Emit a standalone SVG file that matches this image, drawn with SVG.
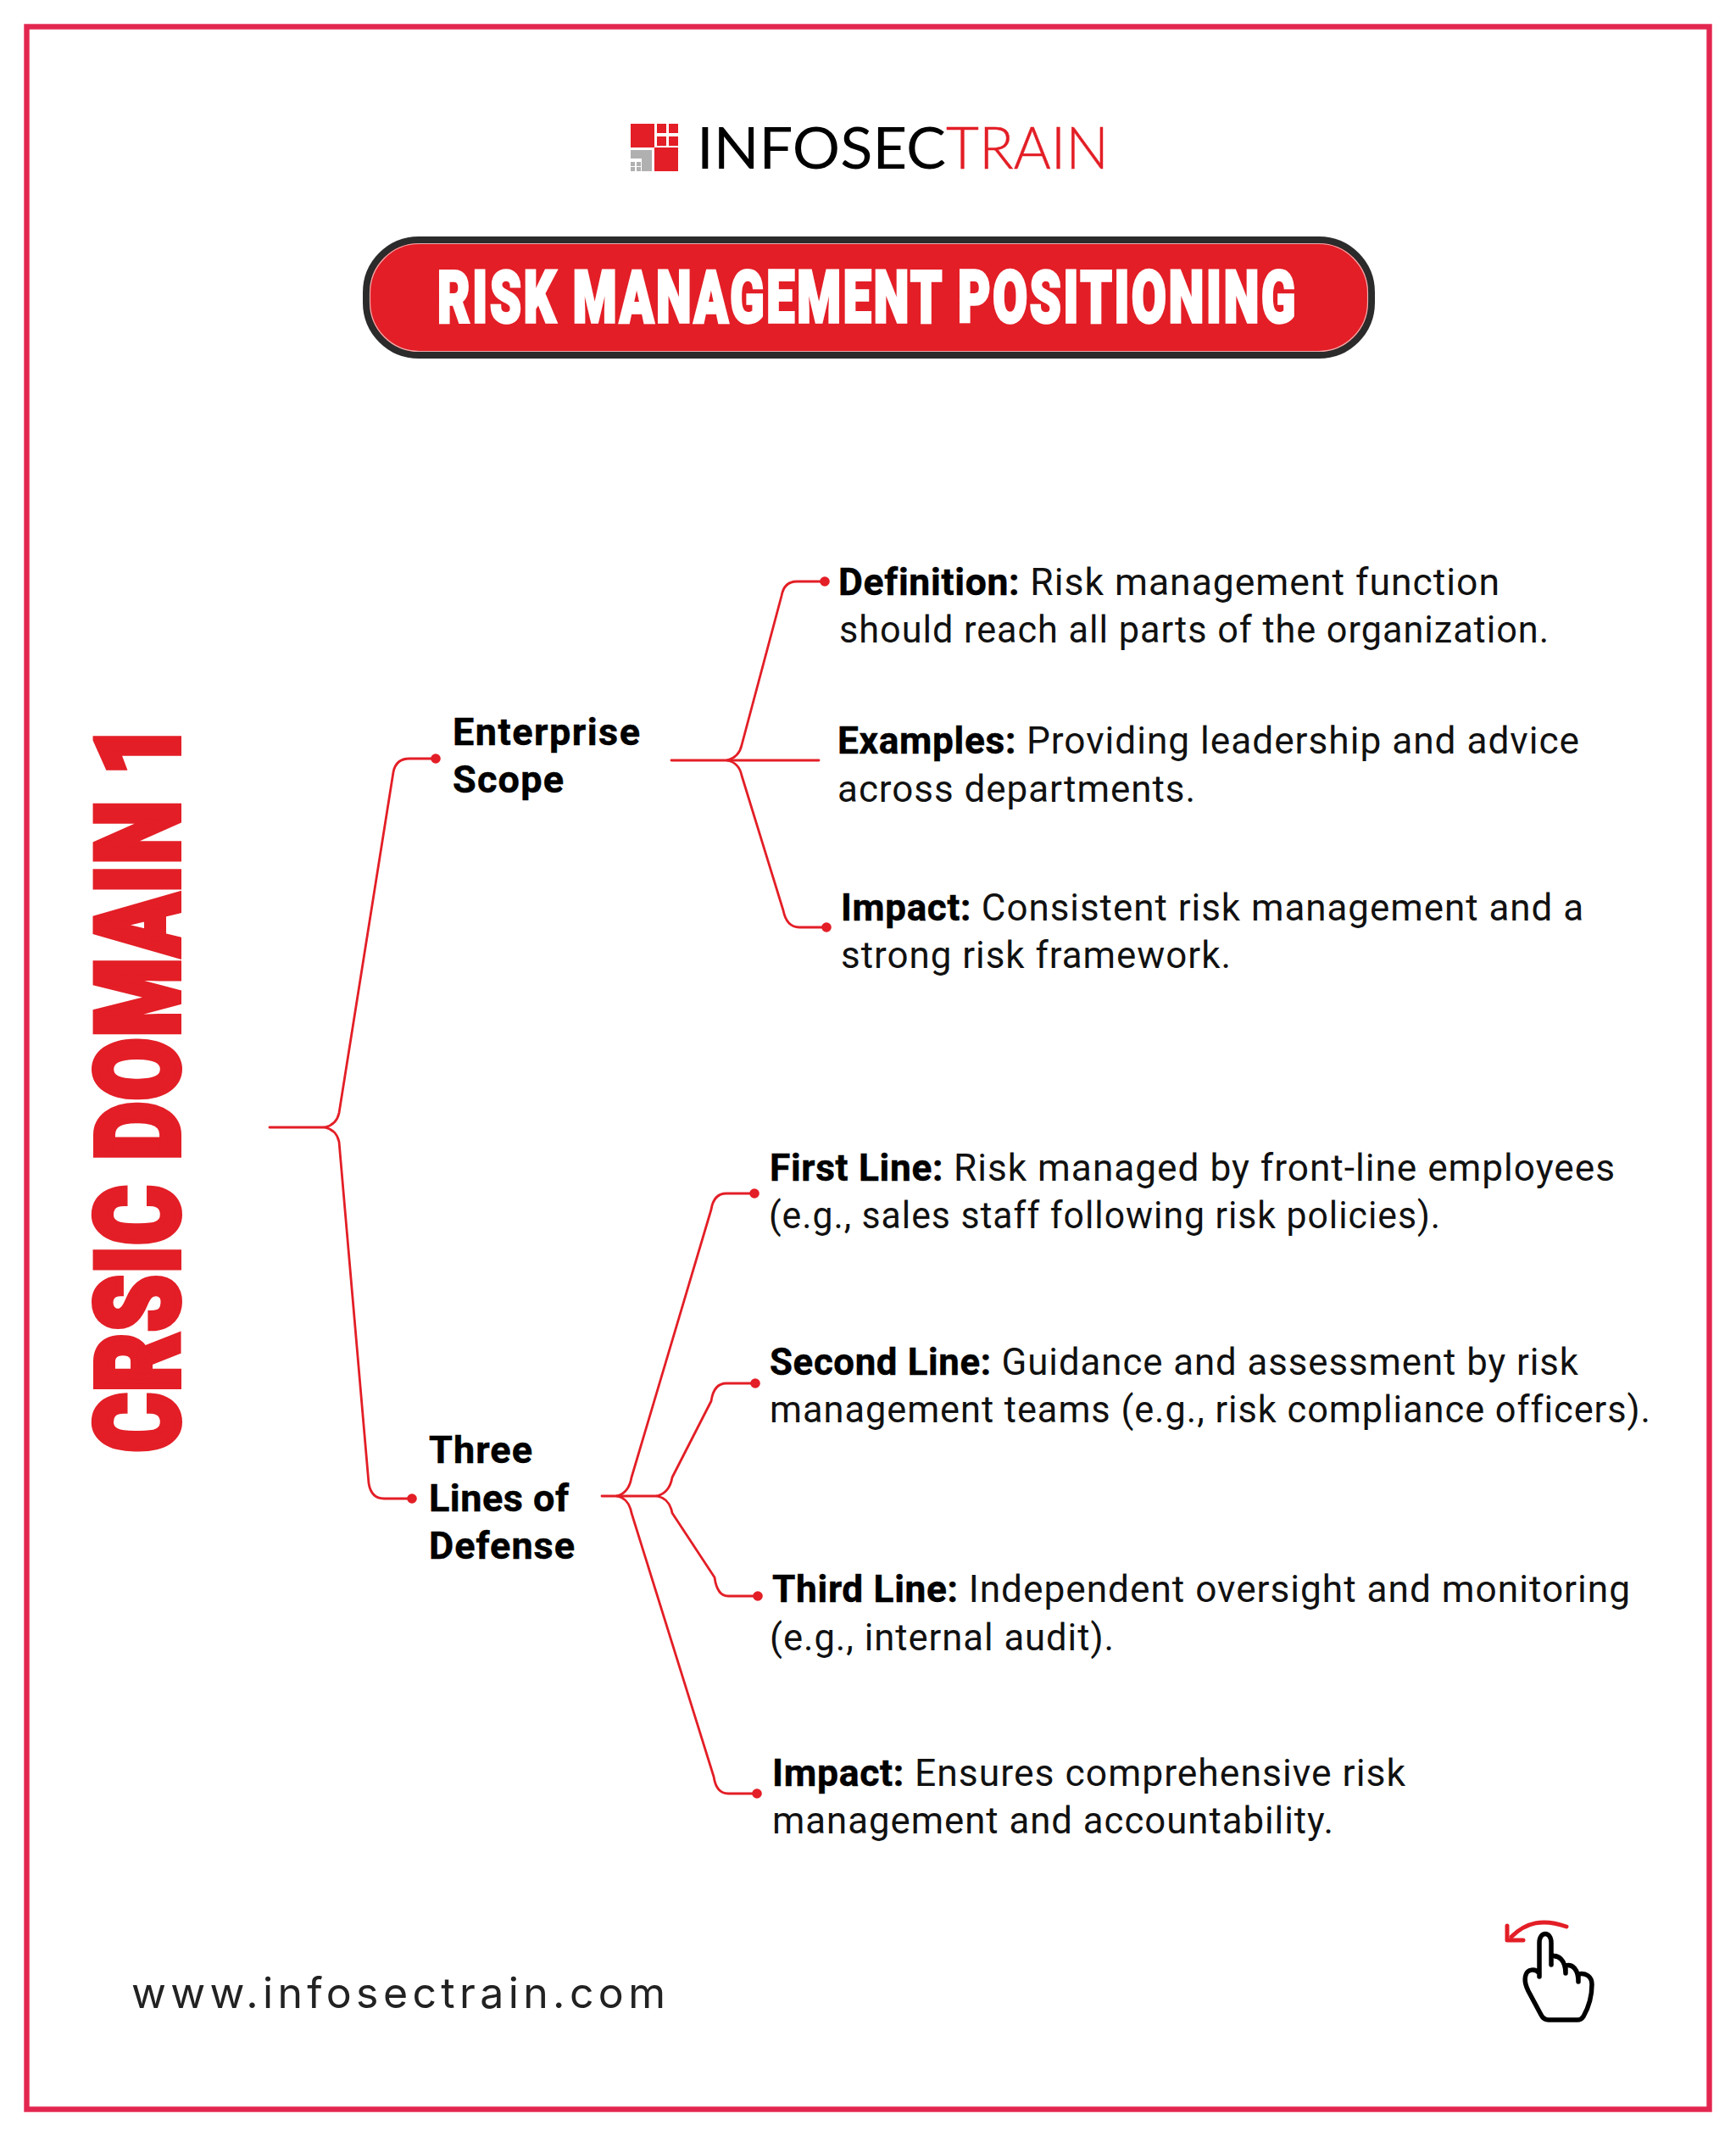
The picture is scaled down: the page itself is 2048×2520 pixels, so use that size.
<svg xmlns="http://www.w3.org/2000/svg" width="2048" height="2520" viewBox="0 0 2048 2520">
<style>
.body{font-family:"Roboto","Liberation Sans",sans-serif;font-size:45px;font-weight:400;fill:#111;letter-spacing:1px}
.b{font-weight:700;fill:#000;letter-spacing:.7px;stroke:#000;stroke-width:.5px}
.head{font-family:"Roboto","Liberation Sans",sans-serif;font-size:45px;font-weight:700;fill:#000;stroke:#000;stroke-width:.5px}
.c{fill:none;stroke:#e31e26;stroke-width:2.8;stroke-linecap:round;stroke-linejoin:round}
.d{fill:#e31e26}
.heavy{font-family:"Roboto","Liberation Sans",sans-serif;font-weight:900;stroke-linejoin:miter}
</style>
<rect x="0" y="0" width="2048" height="2520" fill="#fff"/>
<rect x="31.5" y="31.5" width="1985" height="2457" fill="none" stroke="#e2264f" stroke-width="6.4"/>
<g id="logo">
<g fill="#e31e26"><rect x="744" y="146" width="28" height="28"/><rect x="775" y="146" width="11" height="11"/><rect x="789" y="146" width="11" height="11"/><rect x="775" y="161" width="11" height="11"/><rect x="789" y="161" width="11" height="11"/><rect x="772" y="174" width="28" height="28"/></g>
<path d="M744 177H769V202H757V187H744Z" fill="#b0b0b0"/>
<g fill="#b0b0b0"><rect x="744" y="191" width="5" height="5"/><rect x="751" y="191" width="5" height="5"/><rect x="744" y="197" width="5" height="5"/><rect x="751" y="197" width="5" height="5"/></g>
<text x="822" y="199" font-family="Lato,'Liberation Sans',sans-serif" font-size="68" font-weight="400" fill="#000" textLength="294" lengthAdjust="spacingAndGlyphs">INFOSEC</text>
<text x="1116" y="199" font-family="Lato,'Liberation Sans',sans-serif" font-size="68" font-weight="300" fill="#e31e26" stroke="#e31e26" stroke-width=".5" textLength="192" lengthAdjust="spacingAndGlyphs">TRAIN</text>
</g>
<g id="title">
<rect x="432" y="283" width="1186" height="136" rx="62" fill="#e31e26" stroke="#2b2b2b" stroke-width="8"/>
<rect x="436.5" y="287.5" width="1177" height="127" rx="58" fill="none" stroke="#eeb0b0" stroke-width="1.2"/>
<text class="heavy" x="516" y="380" font-size="85" letter-spacing="4" fill="#fff" stroke="#fff" stroke-width="3.5" textLength="1015" lengthAdjust="spacingAndGlyphs">RISK MANAGEMENT POSITIONING</text>
</g>
<g id="domain">
<text class="heavy" transform="translate(209.5,1713) rotate(-90)" font-size="136" letter-spacing="3" fill="#e31e26" stroke="#e31e26" stroke-width="8" textLength="862" lengthAdjust="spacingAndGlyphs">CRSIC DOMAIN 1</text>
</g>
<g id="connectors">
<path class="c" d="M318 1330H383Q397 1327 400 1313L464 911Q467 895 483 895H514"/>
<path class="c" d="M383 1330Q397 1333 400 1347L435 1750Q438 1768 453 1768H486"/>
<path class="c" d="M792 897H858Q872 893 875 879L922 703Q925 686 940 686H973"/>
<path class="c" d="M858 897H966"/>
<path class="c" d="M858 897Q872 900 875 915L924 1074Q928 1094 943 1094H975"/>
<path class="c" d="M710 1765H728Q742 1761 745 1743L839 1427Q842 1408 857 1408H890"/>
<path class="c" d="M728 1765H775Q790 1761 793 1743L839 1653Q842 1632 857 1632H891"/>
<path class="c" d="M728 1765Q742 1768 745 1785L842 2096Q845 2116 859 2116H893"/>
<path class="c" d="M775 1765Q790 1768 793 1785L843 1861Q846 1883 859 1883H894"/>
<circle class="d" cx="514" cy="895" r="5.8"/><circle class="d" cx="486" cy="1768" r="5.8"/>
<circle class="d" cx="973" cy="686" r="5.8"/><circle class="d" cx="975" cy="1094" r="5.8"/>
<circle class="d" cx="890" cy="1408" r="5.8"/><circle class="d" cx="891" cy="1632" r="5.8"/><circle class="d" cx="894" cy="1883" r="5.8"/><circle class="d" cx="893" cy="2116" r="5.8"/>
</g>
<g id="enterprise"><text class="head" x="534" y="879" textLength="221">Enterprise</text><text class="head" x="534" y="935" textLength="131">Scope</text></g>
<g id="three"><text class="head" x="506" y="1726" textLength="122">Three</text><text class="head" x="506" y="1783" textLength="165">Lines of</text><text class="head" x="506" y="1839" textLength="172">Defense</text></g>
<g id="definition"><text class="body" x="989" y="702" textLength="781" lengthAdjust="spacingAndGlyphs"><tspan class="b">Definition:</tspan> Risk management function</text><text class="body" x="990" y="758" textLength="838" lengthAdjust="spacingAndGlyphs">should reach all parts of the organization.</text></g>
<g id="examples"><text class="body" x="988" y="889" textLength="876" lengthAdjust="spacingAndGlyphs"><tspan class="b">Examples:</tspan> Providing leadership and advice</text><text class="body" x="988" y="946" textLength="423" lengthAdjust="spacingAndGlyphs">across departments.</text></g>
<g id="impact1"><text class="body" x="992" y="1086" textLength="877" lengthAdjust="spacingAndGlyphs"><tspan class="b">Impact:</tspan> Consistent risk management and a</text><text class="body" x="992" y="1142" textLength="461" lengthAdjust="spacingAndGlyphs">strong risk framework.</text></g>
<g id="first"><text class="body" x="908" y="1393" textLength="998" lengthAdjust="spacingAndGlyphs"><tspan class="b">First Line:</tspan> Risk managed by front-line employees</text><text class="body" x="907" y="1449" textLength="793" lengthAdjust="spacingAndGlyphs">(e.g., sales staff following risk policies).</text></g>
<g id="second"><text class="body" x="908" y="1622" textLength="955" lengthAdjust="spacingAndGlyphs"><tspan class="b">Second Line:</tspan> Guidance and assessment by risk</text><text class="body" x="908" y="1678" textLength="1040" lengthAdjust="spacingAndGlyphs">management teams (e.g., risk compliance officers).</text></g>
<g id="third"><text class="body" x="911" y="1890" textLength="1013" lengthAdjust="spacingAndGlyphs"><tspan class="b">Third Line:</tspan> Independent oversight and monitoring</text><text class="body" x="908" y="1947" textLength="407" lengthAdjust="spacingAndGlyphs">(e.g., internal audit).</text></g>
<g id="impact2"><text class="body" x="911" y="2107" textLength="748" lengthAdjust="spacingAndGlyphs"><tspan class="b">Impact:</tspan> Ensures comprehensive risk</text><text class="body" x="911" y="2163" textLength="663" lengthAdjust="spacingAndGlyphs">management and accountability.</text></g>
<g id="website"><text x="155" y="2369" font-family="Inter,'Liberation Sans',sans-serif" font-size="50" fill="#222" textLength="630">www.infosectrain.com</text></g>
<g id="hand">
<path d="M1848 2273C1820 2263 1800 2268 1783 2285" fill="none" stroke="#e31e26" stroke-width="5" stroke-linecap="round"/>
<path d="M1778 2272V2289H1797" fill="none" stroke="#e31e26" stroke-width="5" stroke-linecap="round" stroke-linejoin="round"/>
<path d="M1816 2332V2292C1816 2278 1830 2278 1830 2292V2318V2308C1839 2306 1847 2313 1847 2328V2319C1855 2317 1862 2323 1862 2338V2329C1871 2327 1878 2332 1878 2341C1878 2358 1872 2372 1868 2379C1866 2382 1864 2383 1861 2383H1827C1823 2383 1820 2381 1818 2377L1803 2349C1799 2341 1798 2336 1800 2330C1802 2323 1811 2322 1816 2328" fill="none" stroke="#000" stroke-width="5.5" stroke-linecap="round" stroke-linejoin="round"/>
</g>
</svg>
